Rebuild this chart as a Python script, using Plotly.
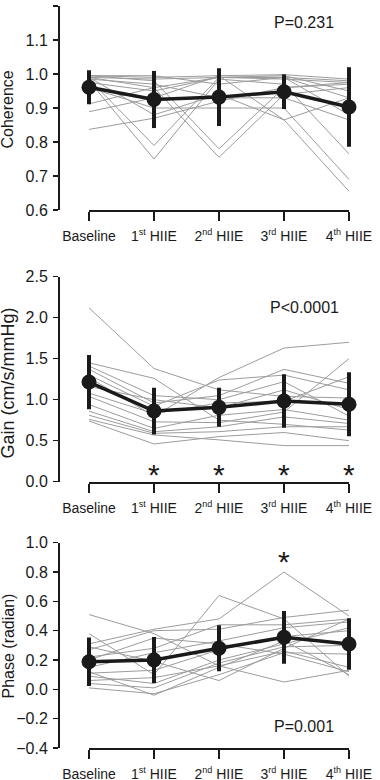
import plotly.graph_objects as go

# ---------------- data ----------------
categories = ["Baseline", "1<sup>st</sup> HIIE", "2<sup>nd</sup> HIIE",
              "3<sup>rd</sup> HIIE", "4<sup>th</sup> HIIE"]
x_idx = [0, 1, 2, 3, 4]

# Coherence
coh_mean = [0.961, 0.925, 0.932, 0.948, 0.903]
coh_sd = [0.050, 0.084, 0.085, 0.051, 0.117]
coh_subjects = [
    [0.995, 0.990, 0.995, 0.998, 0.985],
    [0.990, 0.985, 0.990, 0.990, 0.980],
    [0.985, 0.790, 0.990, 0.985, 0.975],
    [0.980, 0.750, 0.985, 0.970, 0.765],
    [0.995, 0.980, 0.780, 0.960, 0.970],
    [0.990, 0.960, 0.755, 0.940, 0.960],
    [0.960, 0.900, 0.900, 0.900, 0.690],
    [0.912, 0.960, 0.990, 0.990, 0.930],
    [0.889, 0.930, 0.995, 0.865, 0.655],
    [0.837, 0.870, 0.920, 0.960, 0.975],
    [0.990, 0.880, 0.940, 0.865, 0.930],
    [0.975, 0.950, 0.990, 0.995, 0.950],
    [0.995, 0.995, 0.970, 0.990, 0.880],
    [0.985, 0.970, 0.930, 0.930, 0.865],
]
coh_ticks = [0.6, 0.7, 0.8, 0.9, 1.0, 1.1, 1.2]

# Gain
gain_mean = [1.215, 0.862, 0.907, 0.984, 0.944]
gain_sd = [0.330, 0.285, 0.238, 0.325, 0.390]
gain_subjects = [
    [2.12, 1.38, 1.12, 1.04, 1.02],
    [1.45, 1.26, 0.75, 0.70, 0.63],
    [1.41, 1.05, 1.00, 1.22, 0.80],
    [1.37, 0.96, 1.05, 1.37, 1.20],
    [1.30, 0.92, 1.24, 1.30, 1.12],
    [1.27, 0.80, 1.27, 1.63, 1.70],
    [1.16, 1.00, 0.90, 1.12, 0.88],
    [1.08, 0.83, 0.96, 0.98, 1.28],
    [1.04, 0.73, 0.72, 0.85, 1.50],
    [0.94, 0.65, 0.81, 0.88, 0.75],
    [0.86, 0.61, 0.67, 0.79, 0.71],
    [0.81, 0.59, 0.61, 0.67, 0.67],
    [0.76, 0.57, 0.51, 0.44, 0.44],
    [0.74, 0.46, 0.55, 0.60, 0.50],
]
gain_ticks = [0.0, 0.5, 1.0, 1.5, 2.0, 2.5]

# Phase
phase_mean = [0.188, 0.200, 0.280, 0.355, 0.309]
phase_sd = [0.165, 0.157, 0.157, 0.180, 0.176]
phase_subjects = [
    [0.51, 0.38, 0.16, 0.05, 0.13],
    [0.38, 0.10, 0.64, 0.48, 0.09],
    [0.31, 0.41, 0.48, 0.80, 0.50],
    [0.27, 0.40, 0.41, 0.49, 0.54],
    [0.22, 0.28, 0.44, 0.44, 0.48],
    [0.15, 0.25, 0.33, 0.42, 0.46],
    [0.11, 0.13, 0.27, 0.36, 0.40],
    [0.09, 0.04, 0.20, 0.31, 0.42],
    [0.04, 0.01, 0.18, 0.29, 0.30],
    [0.01, -0.03, 0.10, 0.25, 0.24],
    [0.06, 0.08, 0.16, 0.26, 0.15],
    [0.20, 0.35, 0.31, 0.24, 0.12],
    [0.29, 0.19, 0.06, 0.28, 0.48],
    [0.12, -0.04, 0.15, 0.33, 0.10],
]
phase_ticks = [-0.4, -0.2, 0.0, 0.2, 0.4, 0.6, 0.8, 1.0]

titles = ["Coherence", "Gain (cm/s/mmHg)", "Phase (radian)"]
p_texts = ["P=0.231", "P<0.0001", "P=0.001"]
gain_star_idx = [1, 2, 3, 4]
phase_star_idx = [3]

# ---------------- layout helpers ----------------
W, H = 380, 780
FONT = "Liberation Sans, Arial, sans-serif"
INK = "#1a1a1a"
GREY = "#9c9c9c"


def vdom(top_px, bottom_px):
    return [1 - bottom_px / H, 1 - top_px / H]


def small_sup(label):
    # shrink the superscript a little, as in the reference
    return label.replace("<sup>", "<sup><span style='font-size:9px'>").replace(
        "</sup>", "</span></sup>")


X0_PX, DX_PX = 89, 65      # pixel of category 0 and spacing
YAX_PX = 58                # pixel of y-axis line

panels = [
    dict(mean=coh_mean, sd=coh_sd, subj=coh_subjects, ticks=coh_ticks,
         rng=[0.6, 1.2], dom=(6, 210), title=titles[0], tsize=16, tcy=110,
         ptxt=p_texts[0], pval=1.150, stars=[], star_y=None),
    dict(mean=gain_mean, sd=gain_sd, subj=gain_subjects, ticks=gain_ticks,
         rng=[0.0, 2.5], dom=(276.7, 481.7), title=titles[1], tsize=18, tcy=383,
         ptxt=p_texts[1], pval=2.13, stars=gain_star_idx, star_y=0.09),
    dict(mean=phase_mean, sd=phase_sd, subj=phase_subjects, ticks=phase_ticks,
         rng=[-0.4, 1.0], dom=(542.7, 748), title=titles[2], tsize=16, tcy=646,
         ptxt=p_texts[2], pval=-0.255, stars=phase_star_idx, star_y=0.875),
]

fig = go.Figure()
layout = dict(
    width=W, height=H, margin=dict(l=0, r=0, t=0, b=0, autoexpand=False),
    paper_bgcolor="white", plot_bgcolor="rgba(0,0,0,0)",
    showlegend=False, font=dict(family=FONT, color=INK),
    annotations=[], hovermode=False,
)

x_lo = (YAX_PX - X0_PX) / DX_PX
x_hi = (W - X0_PX) / DX_PX

for i, p in enumerate(panels, start=1):
    xa = "x" if i == 1 else f"x{i}"
    ya = "y" if i == 1 else f"y{i}"
    xd = f"x{i + 3}"
    xkey = "xaxis" if i == 1 else f"xaxis{i}"
    ykey = "yaxis" if i == 1 else f"yaxis{i}"

    for s in p["subj"]:
        fig.add_trace(go.Scatter(
            x=x_idx, y=s, mode="lines", xaxis=xa, yaxis=ya,
            line=dict(color=GREY, width=1), hoverinfo="skip"))
    fig.add_trace(go.Scatter(
        x=x_idx, y=p["mean"], mode="lines+markers", xaxis=xa, yaxis=ya,
        line=dict(color=INK, width=3.5),
        marker=dict(color=INK, size=15),
        error_y=dict(type="data", array=p["sd"], color=INK, thickness=4, width=0),
        cliponaxis=False))
    # invisible trace to carry the category (decoration) axis
    fig.add_trace(go.Scatter(
        x=[x_idx[0], x_idx[-1]], y=[p["rng"][0], p["rng"][0]], mode="markers",
        xaxis=xd, yaxis=ya, marker=dict(opacity=0), hoverinfo="skip"))

    layout[xkey] = dict(domain=[YAX_PX / W, 1], range=[x_lo, x_hi], anchor=ya,
                        visible=False, fixedrange=True, automargin=False)
    layout[f"xaxis{i + 3}"] = dict(
        domain=[X0_PX / W, (X0_PX + 4 * DX_PX) / W], range=[0, 4], anchor=ya,
        tickmode="array", tickvals=x_idx,
        ticktext=[small_sup(c) for c in categories],
        ticks="outside", ticklen=9, tickwidth=2, tickcolor=INK,
        showline=True, linewidth=2, linecolor=INK, automargin=False,
        showgrid=False, zeroline=False, ticklabelstandoff=3,
        tickfont=dict(size=14, family=FONT, color=INK), fixedrange=True)
    layout[ykey] = dict(
        domain=vdom(*p["dom"]), range=p["rng"], anchor="free",
        position=YAX_PX / W, automargin=False,
        tickmode="array", tickvals=p["ticks"], tickformat=".1f",
        ticks="outside", ticklen=5, tickwidth=1.5, tickcolor=INK,
        showline=True, linewidth=1.5, linecolor=INK,
        showgrid=False, zeroline=False, ticklabelstandoff=2,
        tickfont=dict(size=16, family=FONT, color=INK), fixedrange=True)

    layout["annotations"].append(dict(
        text=p["title"], xref="paper", yref="paper", x=7.5 / W, y=1 - p["tcy"] / H,
        textangle=-90, showarrow=False, xanchor="center", yanchor="middle",
        font=dict(size=p["tsize"], family=FONT, color=INK)))
    layout["annotations"].append(dict(
        text=p["ptxt"], xref=xa, yref=ya, x=3.31, y=p["pval"],
        showarrow=False, xanchor="center", yanchor="middle",
        font=dict(size=16, family=FONT, color=INK)))
    for k in p["stars"]:
        layout["annotations"].append(dict(
            text="*", xref=xa, yref=ya, x=x_idx[k], y=p["star_y"],
            showarrow=False, xanchor="center", yanchor="middle",
            font=dict(size=30, family=FONT, color=INK)))

fig.update_layout(**layout)
fig.write_html(
    "out.html",
    config={"displayModeBar": False, "staticPlot": True},
    post_script="document.body.style.margin='0px';"
                "document.body.style.overflow='hidden';")
